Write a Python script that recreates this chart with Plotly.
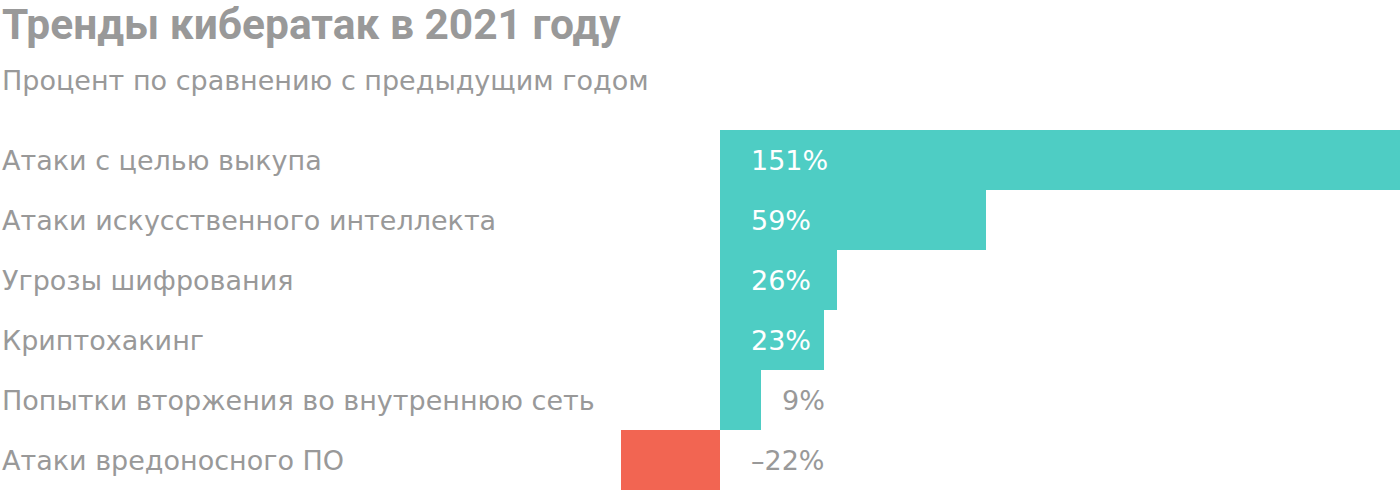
import plotly.graph_objects as go

categories = [
    "Атаки с целью выкупа",
    "Атаки искусственного интеллекта",
    "Угрозы шифрования",
    "Криптохакинг",
    "Попытки вторжения во внутреннюю сеть",
    "Атаки вредоносного ПО",
]
values = [151, 59, 26, 23, 9, -22]
value_labels = ["151%", "59%", "26%", "23%", "9%", "\u201322%"]

TEAL = "#4ECDC4"
RED = "#F26552"
GREY = "#999999"
FONT = "DejaVu Sans"

colors = [TEAL if v > 0 else RED for v in values]

fig = go.Figure(go.Bar(
    x=values,
    y=categories,
    orientation="h",
    marker=dict(color=colors, line=dict(width=0)),
    hoverinfo="skip",
))

# value labels: inside the bar if it is wide enough, otherwise to its right
for cat, v, lab in zip(categories, values, value_labels):
    if v >= 20:
        x, shift, col = 0, 29, "white"
    elif v > 0:
        x, shift, col = v, 19, GREY
    else:
        x, shift, col = 0, 29, GREY
    fig.add_annotation(x=x, y=cat, xref="x", yref="y", text=lab,
                       xanchor="left", yanchor="middle", xshift=shift,
                       showarrow=False,
                       font=dict(family=FONT, size=27, color=col))

# category names, left aligned at the page edge
for cat in categories:
    fig.add_annotation(x=0.0, y=cat, xref="paper", yref="y", text=cat,
                       xanchor="left", yanchor="middle", showarrow=False,
                       font=dict(family=FONT, size=27, color=GREY))

fig.add_annotation(x=0.0, y=(490 - 25) / 360, xref="paper", yref="paper",
                   text="<b>Тренды кибератак в 2021 году</b>",
                   xanchor="left", yanchor="middle", showarrow=False,
                   font=dict(family="Roboto", size=42.5, color=GREY))
fig.add_annotation(x=0.0, y=(490 - 80) / 360, xref="paper", yref="paper",
                   text="Процент по сравнению с предыдущим годом",
                   xanchor="left", yanchor="middle", showarrow=False,
                   font=dict(family=FONT, size=27, color=GREY))

fig.update_layout(
    width=1400, height=492,
    margin=dict(l=0, r=0, t=130, b=2),
    paper_bgcolor="white", plot_bgcolor="white",
    bargap=0,
    showlegend=False,
    xaxis=dict(domain=[621 / 1400, 1], range=[-22, 151], visible=False, fixedrange=True),
    yaxis=dict(autorange="reversed", visible=False, fixedrange=True),
)

fig.write_html("out.html", config={"displayModeBar": False},
               post_script="document.body.style.margin='0';")
